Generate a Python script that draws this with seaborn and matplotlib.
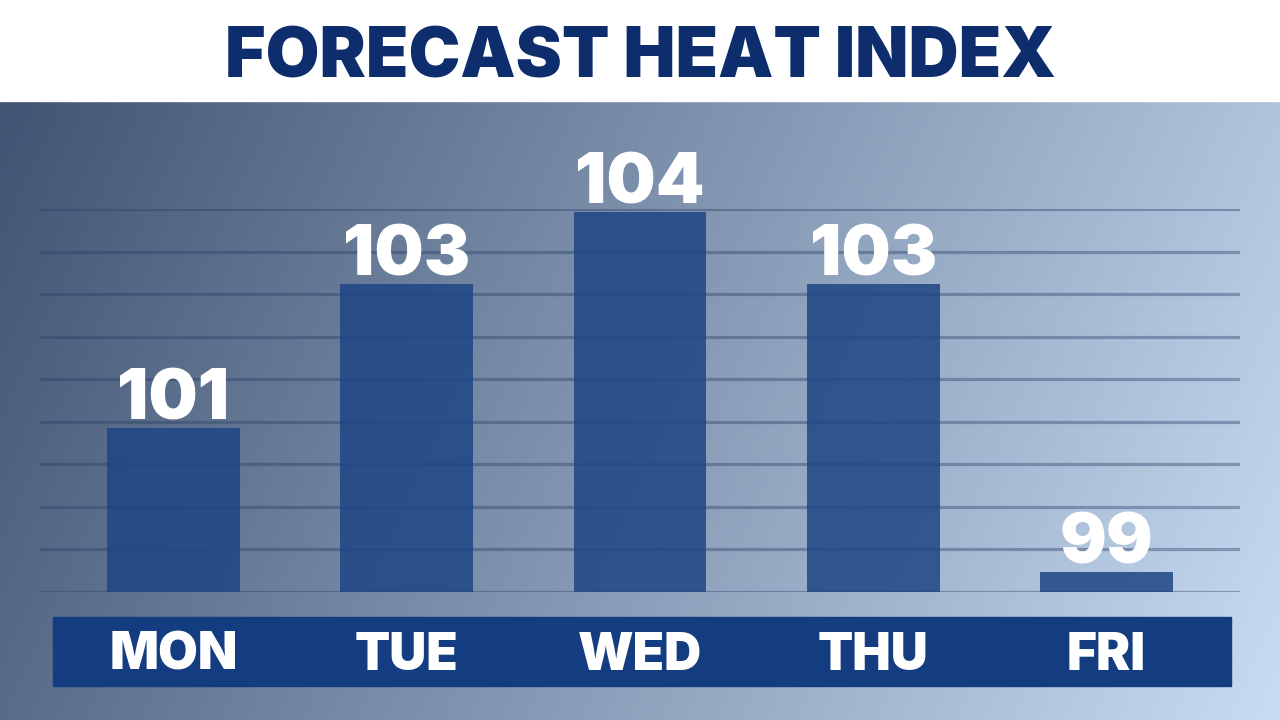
import numpy as np
import pandas as pd
import matplotlib
matplotlib.use("Agg")
import matplotlib.pyplot as plt
import matplotlib.transforms as mtransforms
from matplotlib.patches import Rectangle
from matplotlib.colors import to_rgb
import seaborn as sns

days = ["MON", "TUE", "WED", "THU", "FRI"]
heat_index = [101, 103, 104, 103, 99]
title = "FORECAST HEAT INDEX"

sns.set_theme(style="white")
plt.rcParams["font.family"] = ["Inter", "DejaVu Sans"]

W, H = 1280, 720
fig = plt.figure(figsize=(12.8, 7.2), dpi=100)

# background gradient
bg = fig.add_axes([0, 0, 1, 1])
bg.set_axis_off()
c1 = np.array(to_rgb("#3d506f"))
c2 = np.array(to_rgb("#c8dcf3"))
xx, yy = np.meshgrid(np.linspace(0, 1, 320), np.linspace(0, 1, 180))
t = np.clip(0.8 * xx + 0.2 * yy, 0, 1)[..., None]
img = c1 * (1 - t) + c2 * t
bg.imshow(img, extent=[0, 1, 0, 1], aspect="auto", origin="upper")
bg.set_xlim(0, 1)
bg.set_ylim(0, 1)
# white title band
bg.add_patch(Rectangle((0, 1 - 101 / H), 1, 101 / H, color="white", zorder=2))
bg.text(0.5, 1 - 59 / H, title, ha="center", va="center", fontsize=50,
        fontweight=900, color="#0e2d6c", zorder=3)
# day label band
bg.add_patch(Rectangle((53 / W, 1 - 686 / H), (1231 - 53) / W, 69 / H,
                       color="#143c80", zorder=2))

# chart axes
ax = fig.add_axes([40 / W, 128 / H, 1200 / W, 383 / H])
ax.patch.set_alpha(0)
df = pd.DataFrame({"day": days, "value": heat_index})
ylo = 98.72
yhi = ylo + 383 / 72
ax.set_ylim(ylo, yhi)
ax.set_yticks(np.linspace(ylo, yhi, 10))
ax.yaxis.grid(True, color="#2a3f66", alpha=0.4, linewidth=2.3)
ax.set_axisbelow(True)

sns.barplot(data=df, x="day", y="value", ax=ax, color="#1d4585", alpha=0.85,
            width=0.57, saturation=1, bottom=0, linewidth=0, edgecolor="none")
ax.set_xlim(-0.572, 4.572)
ax.set_ylim(ylo, yhi)
for s in ax.spines.values():
    s.set_visible(False)
ax.set_xlabel("")
ax.set_ylabel("")
ax.set_yticklabels([])
ax.set_xticks([])
ax.tick_params(length=0)

for i, v in enumerate(heat_index):
    ax.annotate(str(v), (i, v), xytext=(0, -4), textcoords="offset points",
                ha="center", va="bottom", fontsize=50, fontweight=900,
                color="white", clip_on=False, annotation_clip=False)

trans = mtransforms.blended_transform_factory(ax.transData, fig.transFigure)
for i, d in enumerate(days):
    ax.text(i, 1 - 656 / H, d, transform=trans, ha="center", va="center",
            fontsize=37, fontweight=900, color="white", zorder=6,
            clip_on=False)

fig.savefig("out.png", dpi=100)
